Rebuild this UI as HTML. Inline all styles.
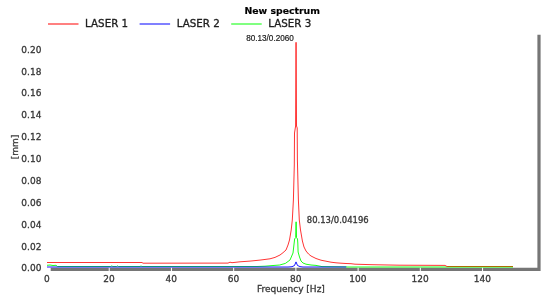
<!DOCTYPE html>
<html><head><meta charset="utf-8"><title>New spectrum</title>
<style>
html,body{margin:0;padding:0;background:#fff;overflow:hidden}
svg{display:block}
text{font-family:"DejaVu Sans","Liberation Sans",sans-serif;fill:#383838;stroke:#383838;stroke-width:.3px}
</style></head><body>
<svg width="550" height="300" viewBox="0 0 550 300">
<rect width="550" height="300" fill="#fff"/>

<g fill="#767676"><path d="M50.7 267.7H537.4V34.8H540.6V271.1H50.7Z"/></g>
<g fill="#fff">
<rect x="108.72" y="267" width="1" height="4.2"/>
<rect x="170.94" y="267" width="1" height="4.2"/>
<rect x="233.17" y="267" width="1" height="4.2"/>
<rect x="295.39" y="267" width="1" height="4.2"/>
<rect x="357.61" y="267" width="1" height="4.2"/>
<rect x="419.83" y="267" width="1" height="4.2"/>
<rect x="482.06" y="267" width="1" height="4.2"/>
</g>
<g fill="none" stroke-width="0.9" stroke-linejoin="round">
<polyline stroke="#00ff00" points="47.00,265.30 50.00,265.00 53.00,265.50 56.00,265.30 57.50,266.50 110.80,266.50 111.80,265.90 112.80,266.50 116.60,266.50 117.60,265.90 118.60,266.50 140.00,266.50 141.00,266.00 142.00,266.50 257.00,266.50 265.00,266.20 272.00,265.60 279.70,265.00 285.40,263.40 290.00,260.00 293.00,253.00 294.40,241.00 294.60,239.00 295.70,237.50 296.10,221.80 296.50,237.50 297.50,239.00 297.80,243.00 298.10,252.00 299.50,257.00 301.00,261.00 303.00,263.00 306.00,264.20 311.00,265.00 316.00,265.40 322.00,266.60 346.00,266.90 347.00,267.00 513.00,267.00"/>
<polyline stroke="#0000ff" points="47.00,267.00 288.00,267.00 292.00,266.70 294.50,265.50 296.00,261.90 297.50,265.50 300.00,266.60 303.00,267.00 346.30,267.00"/>
<polyline stroke="#ff1c1c" points="47.00,262.50 142.00,262.50 143.00,263.20 228.00,263.10 230.00,262.20 232.00,262.70 240.00,261.80 250.00,261.10 260.00,260.10 270.00,258.80 275.00,257.40 280.00,255.00 283.00,252.70 286.00,250.00 288.00,245.00 289.50,240.00 291.20,230.00 292.30,220.00 293.40,200.00 294.30,165.00 294.50,133.00 295.60,126.00 296.05,42.30 296.50,126.00 297.20,128.00 297.40,160.00 298.40,200.00 299.30,220.00 300.50,230.00 302.40,241.00 304.00,247.00 306.00,251.00 308.50,254.00 311.00,256.00 316.00,258.50 321.00,260.20 326.00,261.20 331.00,262.20 336.00,262.80 341.00,263.20 346.00,263.50 351.00,263.70 355.00,264.20 372.00,264.70 399.00,265.20 445.00,265.40 447.00,266.50 513.00,266.50"/>
<rect x="447.5" y="266" width="65.5" height="1" fill="#aa6e00" stroke="none"/>
</g>
<text x="282.2" y="13.7" text-anchor="middle" font-size="9.33" font-weight="bold" style="fill:#000;stroke:#000;stroke-width:.15px">New spectrum</text>
<rect x="48.0" y="23" width="30.5" height="2" fill="#ff8080"/>
<text x="85.1" y="26.7" font-size="10.3" style="fill:#202020;stroke:#202020">LASER 1</text>
<rect x="139.6" y="23" width="30.5" height="2" fill="#8080ff"/>
<text x="176.7" y="26.7" font-size="10.3" style="fill:#202020;stroke:#202020">LASER 2</text>
<rect x="231.2" y="23" width="30.5" height="2" fill="#80ff80"/>
<text x="268.3" y="26.7" font-size="10.3" style="fill:#202020;stroke:#202020">LASER 3</text>
<text x="41.4" y="271.4" text-anchor="end" font-size="9">0.00</text>
<text x="41.4" y="249.5" text-anchor="end" font-size="9">0.02</text>
<text x="41.4" y="227.7" text-anchor="end" font-size="9">0.04</text>
<text x="41.4" y="205.8" text-anchor="end" font-size="9">0.06</text>
<text x="41.4" y="183.9" text-anchor="end" font-size="9">0.08</text>
<text x="41.4" y="162.0" text-anchor="end" font-size="9">0.10</text>
<text x="41.4" y="140.2" text-anchor="end" font-size="9">0.12</text>
<text x="41.4" y="118.3" text-anchor="end" font-size="9">0.14</text>
<text x="41.4" y="96.4" text-anchor="end" font-size="9">0.16</text>
<text x="41.4" y="74.5" text-anchor="end" font-size="9">0.18</text>
<text x="41.4" y="52.6" text-anchor="end" font-size="9">0.20</text>
<text x="46.8" y="281.8" text-anchor="middle" font-size="9">0</text>
<text x="109.0" y="281.8" text-anchor="middle" font-size="9">20</text>
<text x="171.2" y="281.8" text-anchor="middle" font-size="9">40</text>
<text x="233.5" y="281.8" text-anchor="middle" font-size="9">60</text>
<text x="295.7" y="281.8" text-anchor="middle" font-size="9">80</text>
<text x="357.9" y="281.8" text-anchor="middle" font-size="9">100</text>
<text x="420.1" y="281.8" text-anchor="middle" font-size="9">120</text>
<text x="482.4" y="281.8" text-anchor="middle" font-size="9">140</text>
<text x="257" y="292.3" font-size="9">Frequency [Hz]</text>
<text transform="translate(17.8,147) rotate(-90)" text-anchor="middle" font-size="9">[mm]</text>
<text x="246.2" y="41.4" font-size="8.4" textLength="47.6" lengthAdjust="spacingAndGlyphs" style="font-family:'Liberation Sans','DejaVu Sans',sans-serif;fill:#202020;stroke:#202020;stroke-width:.2px">80.13/0.2060</text>
<text x="306.8" y="222.5" font-size="8.45">80.13/0.04196</text>
</svg></body></html>
